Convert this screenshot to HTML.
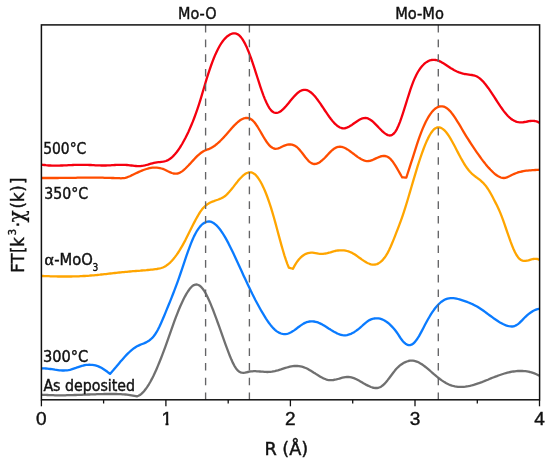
<!DOCTYPE html>
<html><head><meta charset="utf-8"><title>EXAFS FT</title>
<style>
html,body{margin:0;padding:0;background:#fff;}
body{width:550px;height:467px;overflow:hidden;position:relative;font-family:"DejaVu Sans Condensed","DejaVu Sans","Liberation Sans",sans-serif;font-stretch:condensed;color:#111;}
svg{position:absolute;left:0;top:0;display:block;}
text{font-family:"DejaVu Sans Condensed","DejaVu Sans","Liberation Sans",sans-serif;font-stretch:condensed;fill:#111;stroke:#111;stroke-width:0.4px;}
.lab{font-size:16px;}
.tick{font-family:"Liberation Sans",sans-serif;font-stretch:normal;font-size:17.8px;text-anchor:middle;}
.ttl{font-size:18.4px;}
.c{fill:none;stroke-width:2.3;stroke-linecap:round;stroke-linejoin:round;}
</style></head><body>
<svg width="550" height="467" viewBox="0 0 550 467">
<rect x="0" y="0" width="550" height="467" fill="#ffffff"/>
<clipPath id="pc"><rect x="41.35" y="24.95" width="498.20" height="374.95"/></clipPath><g clip-path="url(#pc)">
<path class="c" stroke="#707070" d="M41.4 394.7 L42.9 394.8 L44.4 394.9 L45.9 394.9 L47.4 395.0 L48.9 395.1 L50.4 395.1 L51.9 395.2 L53.4 395.2 L54.9 395.3 L56.4 395.3 L57.9 395.3 L59.4 395.3 L60.9 395.3 L62.4 395.3 L63.9 395.3 L65.4 395.3 L66.9 395.2 L68.4 395.2 L69.9 395.2 L71.4 395.1 L72.9 395.1 L74.4 395.0 L75.9 395.0 L77.4 394.9 L78.9 394.9 L80.4 394.8 L81.9 394.8 L83.4 394.7 L84.9 394.7 L86.4 394.6 L87.9 394.5 L89.4 394.5 L90.9 394.4 L92.4 394.4 L93.9 394.3 L95.4 394.3 L96.9 394.2 L98.4 394.2 L99.9 394.1 L101.4 394.1 L102.9 394.1 L104.4 394.0 L105.9 394.0 L107.4 394.0 L108.9 394.0 L110.4 394.0 L111.9 394.0 L113.4 394.0 L114.9 394.0 L116.4 394.0 L117.9 394.1 L119.4 394.1 L120.9 394.2 L122.4 394.3 L123.9 394.4 L125.4 394.5 L126.9 394.7 L128.4 394.9 L129.9 395.1 L131.4 395.3 L132.9 395.6 L134.4 395.9 L135.9 396.2 L136.9 396.4 L138.4 395.8 L139.9 395.0 L141.4 393.8 L142.9 392.4 L144.4 390.7 L145.9 388.8 L147.4 386.7 L148.9 384.3 L150.4 381.7 L151.9 378.9 L153.4 375.9 L154.9 372.7 L156.4 369.4 L157.9 365.9 L159.4 362.3 L160.9 358.5 L162.4 354.7 L163.9 350.7 L165.4 346.6 L166.9 342.4 L168.4 338.2 L169.9 333.9 L171.4 329.6 L172.9 325.4 L174.4 321.2 L175.9 317.2 L177.4 313.3 L178.9 309.5 L180.4 306.0 L181.9 302.7 L183.4 299.6 L184.9 296.6 L186.4 293.9 L187.9 291.5 L189.4 289.3 L190.9 287.5 L192.4 286.0 L193.9 285.1 L195.4 284.6 L196.9 284.5 L198.4 285.0 L199.9 285.8 L201.4 287.2 L202.9 289.0 L204.4 291.2 L205.9 293.8 L207.4 296.8 L208.9 300.0 L210.4 303.4 L211.9 307.1 L213.4 310.8 L214.9 314.8 L216.4 318.8 L217.9 323.0 L219.4 327.2 L220.9 331.4 L222.4 335.7 L223.9 339.9 L225.4 344.1 L226.9 348.2 L228.4 352.2 L229.9 356.0 L231.4 359.6 L232.9 362.9 L234.4 365.8 L235.9 368.2 L237.4 370.1 L238.9 371.5 L240.4 372.3 L241.9 372.7 L243.4 372.8 L244.9 372.6 L246.4 372.3 L247.9 372.0 L249.4 371.7 L250.9 371.4 L252.4 371.3 L253.9 371.2 L255.4 371.2 L256.9 371.3 L258.4 371.4 L259.9 371.5 L261.4 371.6 L262.9 371.7 L264.4 371.8 L265.9 371.9 L267.4 372.0 L268.9 371.9 L270.4 371.8 L271.9 371.7 L273.4 371.4 L274.9 371.1 L276.4 370.7 L277.9 370.3 L279.4 369.8 L280.9 369.4 L282.4 368.9 L283.9 368.4 L285.4 367.9 L286.9 367.5 L288.4 367.1 L289.9 366.7 L291.4 366.4 L292.9 366.2 L294.4 366.0 L295.9 366.0 L297.4 366.0 L298.9 366.1 L300.4 366.4 L301.9 366.7 L303.4 367.1 L304.9 367.7 L306.4 368.3 L307.9 369.0 L309.4 369.9 L310.9 370.8 L312.4 371.7 L313.9 372.7 L315.4 373.6 L316.9 374.6 L318.4 375.5 L319.9 376.4 L321.4 377.3 L322.9 378.1 L324.4 378.7 L325.9 379.3 L327.4 379.8 L328.9 380.1 L330.4 380.2 L331.9 380.2 L333.4 380.0 L334.9 379.7 L336.4 379.4 L337.9 379.0 L339.4 378.6 L340.9 378.1 L342.4 377.7 L343.9 377.4 L345.4 377.1 L346.9 377.0 L348.4 376.9 L349.9 377.1 L351.4 377.4 L352.9 377.8 L354.4 378.4 L355.9 379.0 L357.4 379.8 L358.9 380.6 L360.4 381.4 L361.9 382.3 L363.4 383.2 L364.9 384.0 L366.4 384.9 L367.9 385.6 L369.4 386.3 L370.9 387.0 L372.4 387.5 L373.9 387.8 L375.4 388.0 L376.9 388.0 L378.4 387.8 L379.9 387.2 L381.4 386.4 L382.9 385.3 L384.4 383.9 L385.9 382.2 L387.4 380.4 L388.9 378.5 L390.4 376.5 L391.9 374.5 L393.4 372.5 L394.9 370.6 L396.4 368.8 L397.9 367.3 L399.4 365.9 L400.9 364.7 L402.4 363.7 L403.9 362.8 L405.4 362.1 L406.9 361.5 L408.4 361.0 L409.9 360.7 L411.4 360.6 L412.9 360.7 L414.4 360.9 L415.9 361.3 L417.4 361.8 L418.9 362.6 L420.4 363.4 L421.9 364.3 L423.4 365.4 L424.9 366.5 L426.4 367.7 L427.9 368.9 L429.4 370.2 L430.9 371.5 L432.4 372.8 L433.9 374.1 L435.4 375.3 L436.9 376.6 L438.4 377.8 L439.9 379.0 L441.4 380.1 L442.9 381.1 L444.4 382.1 L445.9 383.0 L447.4 383.8 L448.9 384.5 L450.4 385.1 L451.9 385.6 L453.4 386.0 L454.9 386.4 L456.4 386.6 L457.9 386.8 L459.4 386.9 L460.9 386.9 L462.4 386.9 L463.9 386.8 L465.4 386.7 L466.9 386.4 L468.4 386.2 L469.9 385.9 L471.4 385.5 L472.9 385.1 L474.4 384.7 L475.9 384.2 L477.4 383.7 L478.9 383.2 L480.4 382.6 L481.9 382.1 L483.4 381.5 L484.9 380.9 L486.4 380.3 L487.9 379.7 L489.4 379.0 L490.9 378.4 L492.4 377.8 L493.9 377.2 L495.4 376.6 L496.9 376.1 L498.4 375.5 L499.9 375.0 L501.4 374.5 L502.9 374.0 L504.4 373.5 L505.9 373.1 L507.4 372.7 L508.9 372.3 L510.4 372.0 L511.9 371.7 L513.4 371.5 L514.9 371.3 L516.4 371.1 L517.9 371.0 L519.4 371.0 L520.9 371.0 L522.4 371.0 L523.9 371.1 L525.4 371.2 L526.9 371.4 L528.4 371.7 L529.9 372.0 L531.4 372.4 L532.9 372.9 L534.4 373.4 L535.9 374.0 L537.4 374.7 L538.9 375.5 L540.0 376.1"/>
<path class="c" stroke="#0a7bff" d="M41.4 368.5 L42.9 368.4 L44.4 368.4 L45.9 368.5 L47.4 368.6 L48.9 368.8 L50.4 369.0 L51.9 369.2 L53.4 369.4 L54.9 369.7 L56.4 369.9 L57.9 370.1 L59.4 370.3 L60.9 370.4 L62.4 370.5 L63.9 370.5 L65.4 370.4 L66.9 370.3 L68.4 370.1 L69.9 369.8 L71.4 369.4 L72.9 368.9 L74.4 368.4 L75.9 367.9 L77.4 367.3 L78.9 366.8 L80.4 366.3 L81.9 365.9 L83.4 365.5 L84.9 365.2 L86.4 364.9 L87.9 364.8 L89.4 364.7 L90.9 364.8 L92.4 364.9 L93.9 365.1 L95.4 365.4 L96.9 365.9 L98.4 366.4 L99.9 367.1 L101.4 367.8 L102.9 368.7 L104.4 369.7 L105.9 370.7 L107.4 371.8 L108.9 373.0 L110.0 373.9 L111.5 372.2 L113.0 370.5 L114.5 368.7 L116.0 367.0 L117.5 365.2 L119.0 363.4 L120.5 361.6 L122.0 359.9 L123.5 358.2 L125.0 356.5 L126.5 354.9 L128.0 353.4 L129.5 352.0 L131.0 350.6 L132.5 349.4 L134.0 348.2 L135.5 347.2 L137.0 346.3 L138.5 345.6 L140.0 344.9 L141.5 344.3 L143.0 343.7 L144.5 343.1 L146.0 342.4 L147.5 341.6 L149.0 340.7 L150.5 339.5 L152.0 338.2 L153.5 336.5 L155.0 334.5 L156.5 332.2 L158.0 329.5 L159.5 326.5 L161.0 323.2 L162.5 319.8 L164.0 316.2 L165.5 312.6 L167.0 308.9 L168.5 305.3 L170.0 301.6 L171.5 297.9 L173.0 294.0 L174.5 290.2 L176.0 286.2 L177.5 282.1 L179.0 277.8 L180.5 273.5 L182.0 269.1 L183.5 264.6 L185.0 260.1 L186.5 255.7 L188.0 251.4 L189.5 247.3 L191.0 243.4 L192.5 239.8 L194.0 236.4 L195.5 233.5 L197.0 230.8 L198.5 228.6 L200.0 226.6 L201.5 225.0 L203.0 223.7 L204.5 222.7 L206.0 222.0 L207.5 221.6 L209.0 221.5 L210.5 221.7 L212.0 222.2 L213.5 223.0 L215.0 224.1 L216.5 225.4 L218.0 227.0 L219.5 228.8 L221.0 230.8 L222.5 233.0 L224.0 235.4 L225.5 237.9 L227.0 240.6 L228.5 243.4 L230.0 246.4 L231.5 249.4 L233.0 252.5 L234.5 255.7 L236.0 259.0 L237.5 262.2 L239.0 265.5 L240.5 268.8 L242.0 272.1 L243.5 275.4 L245.0 278.6 L246.5 281.8 L248.0 285.0 L249.5 288.1 L251.0 291.2 L252.5 294.3 L254.0 297.2 L255.5 300.2 L257.0 303.0 L258.5 305.8 L260.0 308.5 L261.5 311.2 L263.0 313.7 L264.5 316.2 L266.0 318.6 L267.5 320.8 L269.0 323.0 L270.5 324.9 L272.0 326.7 L273.5 328.4 L275.0 329.8 L276.5 331.1 L278.0 332.1 L279.5 332.9 L281.0 333.5 L282.5 333.9 L284.0 334.1 L285.5 334.1 L287.0 333.9 L288.5 333.5 L290.0 332.8 L291.5 332.0 L293.0 331.1 L294.5 330.1 L296.0 329.0 L297.5 327.8 L299.0 326.7 L300.5 325.6 L302.0 324.6 L303.5 323.6 L305.0 322.9 L306.5 322.2 L308.0 321.8 L309.5 321.5 L311.0 321.4 L312.5 321.4 L314.0 321.5 L315.5 321.8 L317.0 322.2 L318.5 322.7 L320.0 323.4 L321.5 324.1 L323.0 324.9 L324.5 325.8 L326.0 326.7 L327.5 327.7 L329.0 328.7 L330.5 329.6 L332.0 330.6 L333.5 331.5 L335.0 332.3 L336.5 333.1 L338.0 333.8 L339.5 334.4 L341.0 334.8 L342.5 335.2 L344.0 335.3 L345.5 335.3 L347.0 335.1 L348.5 334.7 L350.0 334.2 L351.5 333.6 L353.0 332.8 L354.5 331.9 L356.0 330.9 L357.5 329.8 L359.0 328.6 L360.5 327.3 L362.0 326.0 L363.5 324.6 L365.0 323.3 L366.5 322.1 L368.0 321.0 L369.5 320.1 L371.0 319.4 L372.5 318.9 L374.0 318.5 L375.5 318.3 L377.0 318.3 L378.5 318.4 L380.0 318.7 L381.5 319.1 L383.0 319.8 L384.5 320.5 L386.0 321.4 L387.5 322.5 L389.0 323.7 L390.5 325.1 L392.0 326.6 L393.5 328.2 L395.0 330.0 L396.5 332.0 L398.0 334.2 L399.5 336.5 L401.0 338.8 L402.5 340.7 L404.0 342.4 L405.5 343.7 L407.0 344.6 L408.5 345.1 L410.0 345.1 L411.5 344.7 L413.0 343.8 L414.5 342.4 L416.0 340.6 L417.5 338.5 L419.0 336.1 L420.5 333.4 L422.0 330.6 L423.5 327.7 L425.0 324.8 L426.5 322.0 L428.0 319.3 L429.5 316.7 L431.0 314.2 L432.5 311.9 L434.0 309.8 L435.5 307.8 L437.0 306.1 L438.5 304.4 L440.0 303.0 L441.5 301.7 L443.0 300.7 L444.5 299.8 L446.0 299.1 L447.5 298.6 L449.0 298.3 L450.5 298.1 L452.0 298.1 L453.5 298.2 L455.0 298.3 L456.5 298.6 L458.0 299.0 L459.5 299.4 L461.0 299.9 L462.5 300.4 L464.0 300.9 L465.5 301.4 L467.0 301.9 L468.5 302.5 L470.0 303.1 L471.5 303.7 L473.0 304.4 L474.5 305.2 L476.0 306.0 L477.5 306.8 L479.0 307.8 L480.5 308.8 L482.0 309.8 L483.5 310.8 L485.0 311.9 L486.5 313.0 L488.0 314.1 L489.5 315.2 L491.0 316.3 L492.5 317.4 L494.0 318.5 L495.5 319.5 L497.0 320.5 L498.5 321.5 L500.0 322.4 L501.5 323.2 L503.0 324.0 L504.5 324.7 L506.0 325.4 L507.5 325.9 L509.0 326.2 L510.5 326.4 L512.0 326.5 L513.5 326.3 L515.0 325.8 L516.5 325.1 L518.0 324.1 L519.5 322.9 L521.0 321.4 L522.5 319.9 L524.0 318.3 L525.5 316.8 L527.0 315.4 L528.5 314.1 L530.0 313.0 L531.5 312.0 L533.0 311.0 L534.5 310.3 L536.0 309.6 L537.5 309.1 L539.0 308.8 L540.0 308.6"/>
<path class="c" stroke="#ffa500" d="M41.4 276.0 L42.9 276.0 L44.4 276.1 L45.9 276.1 L47.4 276.2 L48.9 276.2 L50.4 276.3 L51.9 276.3 L53.4 276.4 L54.9 276.4 L56.4 276.4 L57.9 276.5 L59.4 276.5 L60.9 276.5 L62.4 276.5 L63.9 276.5 L65.4 276.5 L66.9 276.5 L68.4 276.5 L69.9 276.5 L71.4 276.5 L72.9 276.4 L74.4 276.4 L75.9 276.4 L77.4 276.3 L78.9 276.3 L80.4 276.2 L81.9 276.1 L83.4 276.0 L84.9 276.0 L86.4 275.9 L87.9 275.8 L89.4 275.7 L90.9 275.5 L92.4 275.4 L93.9 275.3 L95.4 275.1 L96.9 275.0 L98.4 274.8 L99.9 274.7 L101.4 274.5 L102.9 274.4 L104.4 274.2 L105.9 274.1 L107.4 273.9 L108.9 273.7 L110.4 273.5 L111.9 273.4 L113.4 273.2 L114.9 273.0 L116.4 272.9 L117.9 272.7 L119.4 272.5 L120.9 272.4 L122.4 272.2 L123.9 272.1 L125.4 271.9 L126.9 271.8 L128.4 271.6 L129.9 271.5 L131.4 271.4 L132.9 271.2 L134.4 271.1 L135.9 271.0 L137.4 270.9 L138.9 270.8 L140.4 270.7 L141.9 270.5 L143.4 270.4 L144.9 270.3 L146.4 270.2 L147.9 270.0 L149.4 269.9 L150.9 269.7 L152.4 269.6 L153.9 269.4 L155.4 269.2 L156.9 269.0 L158.4 268.7 L159.9 268.4 L161.4 268.0 L162.9 267.5 L164.4 266.8 L165.9 265.9 L167.4 264.8 L168.9 263.6 L170.4 262.3 L171.9 260.7 L173.4 259.0 L174.9 257.1 L176.4 255.1 L177.9 253.0 L179.4 250.7 L180.9 248.2 L182.4 245.6 L183.9 242.9 L185.4 240.1 L186.9 237.1 L188.4 234.1 L189.9 231.1 L191.4 228.0 L192.9 225.0 L194.4 222.1 L195.9 219.2 L197.4 216.6 L198.9 214.0 L200.4 211.7 L201.9 209.6 L203.4 207.8 L204.9 206.3 L206.4 205.0 L207.9 203.9 L209.4 203.0 L210.9 202.2 L212.4 201.6 L213.9 201.1 L215.4 200.5 L216.9 200.0 L218.4 199.5 L219.9 198.9 L221.4 198.3 L222.9 197.4 L224.4 196.5 L225.9 195.3 L227.4 193.9 L228.9 192.3 L230.4 190.6 L231.9 188.8 L233.4 186.9 L234.9 184.9 L236.4 183.0 L237.9 181.1 L239.4 179.3 L240.9 177.7 L242.4 176.2 L243.9 174.9 L245.4 173.8 L246.9 173.0 L248.4 172.5 L249.9 172.3 L251.4 172.4 L252.9 173.0 L254.4 173.9 L255.9 175.2 L257.4 177.0 L258.9 179.1 L260.4 181.5 L261.9 184.3 L263.4 187.4 L264.9 190.8 L266.4 194.5 L267.9 198.5 L269.4 202.8 L270.9 207.4 L272.4 212.4 L273.9 217.5 L275.4 222.9 L276.9 228.5 L278.4 234.1 L279.9 239.6 L281.4 245.1 L282.9 250.3 L284.4 255.3 L285.9 259.9 L287.4 264.1 L288.9 267.7 L290.4 268.1 L291.9 268.5 L293.0 268.8 L294.5 265.9 L296.0 263.4 L297.5 261.2 L299.0 259.3 L300.5 257.7 L302.0 256.3 L303.5 255.2 L305.0 254.3 L306.5 253.6 L308.0 253.2 L309.5 252.9 L311.0 252.7 L312.5 252.7 L314.0 252.9 L315.5 253.1 L317.0 253.3 L318.5 253.6 L320.0 253.8 L321.5 253.9 L323.0 253.9 L324.5 253.7 L326.0 253.5 L327.5 253.1 L329.0 252.7 L330.5 252.3 L332.0 251.8 L333.5 251.4 L335.0 251.0 L336.5 250.7 L338.0 250.5 L339.5 250.4 L341.0 250.3 L342.5 250.3 L344.0 250.4 L345.5 250.6 L347.0 251.0 L348.5 251.4 L350.0 252.0 L351.5 252.6 L353.0 253.4 L354.5 254.3 L356.0 255.3 L357.5 256.4 L359.0 257.5 L360.5 258.5 L362.0 259.6 L363.5 260.6 L365.0 261.6 L366.5 262.5 L368.0 263.2 L369.5 263.8 L371.0 264.3 L372.5 264.6 L374.0 264.6 L375.5 264.5 L377.0 264.1 L378.5 263.4 L380.0 262.4 L381.5 261.2 L383.0 259.6 L384.5 257.8 L386.0 255.6 L387.5 253.1 L389.0 250.2 L390.5 247.0 L392.0 243.5 L393.5 239.9 L395.0 236.1 L396.5 232.2 L398.0 228.3 L399.5 224.4 L401.0 220.3 L402.5 216.1 L404.0 211.6 L405.5 206.9 L407.0 202.0 L408.5 197.0 L410.0 191.9 L411.5 186.8 L413.0 181.6 L414.5 176.6 L416.0 171.6 L417.5 166.7 L419.0 162.0 L420.5 157.5 L422.0 153.1 L423.5 149.0 L425.0 145.2 L426.5 141.6 L428.0 138.4 L429.5 135.5 L431.0 133.0 L432.5 131.0 L434.0 129.3 L435.5 128.2 L437.0 127.5 L438.5 127.3 L440.0 127.5 L441.5 128.1 L443.0 129.1 L444.5 130.4 L446.0 132.0 L447.5 134.0 L449.0 136.2 L450.5 138.6 L452.0 141.2 L453.5 144.0 L455.0 146.8 L456.5 149.7 L458.0 152.6 L459.5 155.5 L461.0 158.3 L462.5 160.9 L464.0 163.5 L465.5 165.8 L467.0 168.0 L468.5 170.0 L470.0 171.8 L471.5 173.3 L473.0 174.6 L474.5 175.8 L476.0 177.0 L477.5 178.1 L479.0 179.2 L480.5 180.4 L482.0 181.8 L483.5 183.2 L485.0 184.9 L486.5 186.8 L488.0 189.0 L489.5 191.4 L491.0 194.0 L492.5 196.8 L494.0 199.7 L495.5 202.6 L497.0 205.5 L498.5 208.7 L500.0 212.1 L501.5 215.9 L503.0 219.9 L504.5 224.2 L506.0 228.5 L507.5 232.9 L509.0 237.2 L510.5 241.4 L512.0 245.3 L513.5 249.0 L515.0 252.2 L516.5 255.0 L518.0 257.2 L519.5 258.9 L521.0 260.0 L522.5 260.6 L524.0 260.9 L525.5 260.9 L527.0 260.6 L528.5 260.3 L530.0 259.8 L531.5 259.4 L533.0 259.0 L534.5 258.8 L536.0 258.8 L537.5 259.0 L539.0 259.6 L540.0 260.2"/>
<path class="c" stroke="#ff4d00" d="M41.4 178.0 L42.9 178.0 L44.4 178.0 L45.9 178.0 L47.4 178.0 L48.9 178.0 L50.4 178.0 L51.9 178.0 L53.4 178.0 L54.9 178.0 L56.4 178.0 L57.9 178.0 L59.4 177.9 L60.9 177.9 L62.4 177.9 L63.9 177.9 L65.4 177.9 L66.9 177.9 L68.4 177.8 L69.9 177.8 L71.4 177.8 L72.9 177.8 L74.4 177.8 L75.9 177.8 L77.4 177.7 L78.9 177.7 L80.4 177.7 L81.9 177.7 L83.4 177.7 L84.9 177.7 L86.4 177.7 L87.9 177.7 L89.4 177.7 L90.9 177.7 L92.4 177.7 L93.9 177.7 L95.4 177.7 L96.9 177.7 L98.4 177.7 L99.9 177.7 L101.4 177.7 L102.9 177.7 L104.4 177.8 L105.9 177.8 L107.4 177.8 L108.9 177.9 L110.4 177.9 L111.9 178.0 L113.4 178.0 L114.9 178.1 L116.4 178.1 L117.9 178.2 L119.4 178.2 L120.9 178.3 L122.4 178.2 L123.9 178.1 L125.4 177.8 L126.9 177.4 L128.4 176.8 L129.9 176.2 L131.4 175.4 L132.9 174.7 L134.4 174.0 L135.9 173.3 L137.4 172.6 L138.9 171.9 L140.4 171.2 L141.9 170.6 L143.4 170.0 L144.9 169.5 L146.4 169.0 L147.9 168.6 L149.4 168.2 L150.9 167.9 L152.4 167.7 L153.9 167.6 L155.4 167.6 L156.9 167.7 L158.4 167.8 L159.9 168.1 L161.4 168.5 L162.9 168.9 L164.4 169.5 L165.9 170.2 L167.4 171.0 L168.9 171.7 L170.4 172.4 L171.9 173.0 L173.4 173.5 L174.9 173.7 L176.4 173.7 L177.9 173.5 L179.4 172.9 L180.9 172.1 L182.4 171.1 L183.9 169.9 L185.4 168.5 L186.9 167.0 L188.4 165.5 L189.9 163.9 L191.4 162.2 L192.9 160.6 L194.4 159.0 L195.9 157.4 L197.4 155.9 L198.9 154.6 L200.4 153.3 L201.9 152.2 L203.4 151.2 L204.9 150.5 L206.4 149.9 L207.9 149.3 L209.4 148.8 L210.9 148.1 L212.4 147.2 L213.9 146.3 L215.4 145.2 L216.9 144.0 L218.4 142.7 L219.9 141.3 L221.4 139.8 L222.9 138.2 L224.4 136.6 L225.9 134.9 L227.4 133.2 L228.9 131.5 L230.4 129.8 L231.9 128.0 L233.4 126.4 L234.9 124.8 L236.4 123.4 L237.9 122.0 L239.4 120.8 L240.9 119.8 L242.4 119.0 L243.9 118.4 L245.4 118.0 L246.9 117.9 L248.4 118.1 L249.9 118.6 L251.4 119.5 L252.9 120.7 L254.4 122.3 L255.9 124.3 L257.4 126.5 L258.9 129.0 L260.4 131.5 L261.9 134.1 L263.4 136.7 L264.9 139.2 L266.4 141.5 L267.9 143.6 L269.4 145.4 L270.9 146.8 L272.4 147.8 L273.9 148.5 L275.4 148.8 L276.9 148.7 L278.4 148.4 L279.9 147.8 L281.4 147.0 L282.9 146.3 L284.4 145.6 L285.9 145.1 L287.4 144.7 L288.9 144.5 L290.4 144.4 L291.9 144.6 L293.4 145.1 L294.9 145.8 L296.4 146.7 L297.9 148.0 L299.4 149.6 L300.9 151.4 L302.4 153.3 L303.9 155.3 L305.4 157.3 L306.9 159.1 L308.4 160.8 L309.9 162.1 L311.4 163.1 L312.9 163.8 L314.4 164.0 L315.9 163.9 L317.4 163.4 L318.9 162.7 L320.4 161.7 L321.9 160.5 L323.4 159.2 L324.9 157.7 L326.4 156.1 L327.9 154.5 L329.4 152.9 L330.9 151.4 L332.4 150.0 L333.9 148.8 L335.4 147.9 L336.9 147.2 L338.4 146.8 L339.9 146.7 L341.4 146.9 L342.9 147.2 L344.4 147.8 L345.9 148.5 L347.4 149.4 L348.9 150.4 L350.4 151.5 L351.9 152.6 L353.4 153.7 L354.9 154.9 L356.4 156.0 L357.9 157.1 L359.4 158.1 L360.9 159.0 L362.4 159.8 L363.9 160.4 L365.4 160.8 L366.9 161.1 L368.4 161.0 L369.9 160.8 L371.4 160.3 L372.9 159.8 L374.4 159.1 L375.9 158.4 L377.4 157.7 L378.9 157.1 L380.4 156.5 L381.9 156.2 L383.4 155.9 L384.9 156.0 L386.4 156.3 L387.9 157.0 L389.4 158.0 L390.9 159.4 L392.4 161.2 L393.9 163.4 L395.4 165.7 L396.9 168.2 L398.4 170.8 L399.9 173.4 L401.4 176.0 L402.2 177.3 L403.7 177.4 L405.2 177.6 L406.3 177.7 L407.8 173.0 L409.3 168.4 L410.8 163.7 L412.3 159.1 L413.8 154.3 L415.3 149.6 L416.8 144.9 L418.3 140.4 L419.8 136.1 L421.3 132.1 L422.8 128.4 L424.3 125.0 L425.8 121.8 L427.3 119.0 L428.8 116.4 L430.3 114.1 L431.8 112.1 L433.3 110.4 L434.8 109.0 L436.3 107.9 L437.8 107.1 L439.3 106.5 L440.8 106.3 L442.3 106.3 L443.8 106.6 L445.3 107.3 L446.8 108.2 L448.3 109.4 L449.8 110.8 L451.3 112.6 L452.8 114.5 L454.3 116.6 L455.8 118.9 L457.3 121.3 L458.8 123.7 L460.3 126.2 L461.8 128.8 L463.3 131.3 L464.8 133.8 L466.3 136.3 L467.8 138.7 L469.3 141.0 L470.8 143.4 L472.3 145.7 L473.8 147.9 L475.3 150.1 L476.8 152.3 L478.3 154.4 L479.8 156.5 L481.3 158.6 L482.8 160.6 L484.3 162.5 L485.8 164.4 L487.3 166.2 L488.8 167.9 L490.3 169.5 L491.8 171.0 L493.3 172.5 L494.8 173.8 L496.3 175.0 L497.8 176.0 L499.3 176.8 L500.8 177.5 L502.3 177.9 L503.8 178.0 L505.3 177.8 L506.8 177.4 L508.3 176.7 L509.8 176.0 L511.3 175.2 L512.8 174.5 L514.3 173.9 L515.8 173.3 L517.3 172.7 L518.8 172.2 L520.3 171.8 L521.8 171.5 L523.3 171.2 L524.8 170.9 L526.3 170.7 L527.8 170.6 L529.3 170.4 L530.8 170.3 L532.3 170.2 L533.8 170.1 L535.3 170.0 L536.8 169.9 L538.3 169.8 L539.6 169.7"/>
<path class="c" stroke="#f5000f" d="M41.4 164.6 L42.9 164.8 L44.4 165.0 L45.9 165.2 L47.4 165.3 L48.9 165.5 L50.4 165.5 L51.9 165.6 L53.4 165.6 L54.9 165.6 L56.4 165.6 L57.9 165.6 L59.4 165.6 L60.9 165.5 L62.4 165.5 L63.9 165.4 L65.4 165.4 L66.9 165.3 L68.4 165.2 L69.9 165.1 L71.4 165.1 L72.9 165.0 L74.4 164.9 L75.9 164.9 L77.4 164.8 L78.9 164.8 L80.4 164.8 L81.9 164.8 L83.4 164.8 L84.9 164.8 L86.4 164.8 L87.9 164.9 L89.4 165.0 L90.9 165.0 L92.4 165.1 L93.9 165.2 L95.4 165.3 L96.9 165.3 L98.4 165.4 L99.9 165.4 L101.4 165.5 L102.9 165.5 L104.4 165.5 L105.9 165.5 L107.4 165.4 L108.9 165.3 L110.4 165.3 L111.9 165.2 L113.4 165.1 L114.9 165.0 L116.4 164.9 L117.9 164.9 L119.4 164.8 L120.9 164.8 L122.4 164.8 L123.9 164.8 L125.4 164.9 L126.9 165.0 L128.4 165.1 L129.9 165.3 L131.4 165.5 L132.9 165.7 L134.4 165.9 L135.9 166.0 L137.4 166.1 L138.9 166.1 L140.4 166.1 L141.9 165.9 L143.4 165.7 L144.9 165.4 L146.4 165.0 L147.9 164.6 L149.4 164.1 L150.9 163.7 L152.4 163.3 L153.9 162.9 L155.4 162.6 L156.9 162.3 L158.4 162.2 L159.9 162.1 L161.4 161.9 L162.9 161.7 L164.4 161.4 L165.9 161.0 L167.4 160.4 L168.9 159.6 L170.4 158.5 L171.9 157.3 L173.4 155.9 L174.9 154.3 L176.4 152.5 L177.9 150.5 L179.4 148.3 L180.9 146.0 L182.4 143.5 L183.9 140.8 L185.4 138.0 L186.9 135.0 L188.4 131.9 L189.9 128.5 L191.4 125.0 L192.9 121.4 L194.4 117.5 L195.9 113.4 L197.4 109.1 L198.9 104.6 L200.4 99.8 L201.9 94.9 L203.4 89.8 L204.9 84.7 L206.4 79.7 L207.9 74.9 L209.4 70.3 L210.9 66.0 L212.4 61.9 L213.9 58.0 L215.4 54.4 L216.9 51.2 L218.4 48.2 L219.9 45.5 L221.4 43.1 L222.9 41.0 L224.4 39.1 L225.9 37.6 L227.4 36.2 L228.9 35.2 L230.4 34.3 L231.9 33.7 L233.4 33.4 L234.9 33.4 L236.4 33.7 L237.9 34.4 L239.4 35.5 L240.9 37.1 L242.4 39.1 L243.9 41.6 L245.4 44.4 L246.9 47.6 L248.4 51.2 L249.9 55.1 L251.4 59.2 L252.9 63.6 L254.4 68.1 L255.9 72.8 L257.4 77.5 L258.9 82.2 L260.4 86.8 L261.9 91.2 L263.4 95.3 L264.9 99.1 L266.4 102.5 L267.9 105.5 L269.4 108.1 L270.9 110.1 L272.4 111.6 L273.9 112.5 L275.4 112.9 L276.9 112.9 L278.4 112.5 L279.9 111.8 L281.4 110.7 L282.9 109.4 L284.4 107.9 L285.9 106.3 L287.4 104.5 L288.9 102.7 L290.4 100.8 L291.9 99.0 L293.4 97.2 L294.9 95.6 L296.4 94.1 L297.9 92.7 L299.4 91.6 L300.9 90.7 L302.4 90.1 L303.9 89.8 L305.4 89.8 L306.9 90.1 L308.4 90.8 L309.9 91.7 L311.4 92.8 L312.9 94.2 L314.4 95.8 L315.9 97.6 L317.4 99.5 L318.9 101.6 L320.4 103.7 L321.9 106.0 L323.4 108.2 L324.9 110.5 L326.4 112.7 L327.9 114.9 L329.4 117.0 L330.9 119.0 L332.4 120.9 L333.9 122.6 L335.4 124.2 L336.9 125.5 L338.4 126.6 L339.9 127.5 L341.4 128.0 L342.9 128.3 L344.4 128.3 L345.9 128.0 L347.4 127.4 L348.9 126.7 L350.4 125.8 L351.9 124.9 L353.4 123.8 L354.9 122.7 L356.4 121.7 L357.9 120.7 L359.4 119.8 L360.9 119.0 L362.4 118.4 L363.9 118.1 L365.4 118.0 L366.9 118.2 L368.4 118.7 L369.9 119.5 L371.4 120.5 L372.9 121.7 L374.4 123.1 L375.9 124.6 L377.4 126.1 L378.9 127.7 L380.4 129.2 L381.9 130.8 L383.4 132.2 L384.9 133.4 L386.4 134.4 L387.9 135.1 L389.4 135.5 L390.9 135.4 L392.4 134.7 L393.9 133.5 L395.4 131.6 L396.9 129.1 L398.4 125.8 L399.9 122.1 L401.4 117.9 L402.9 113.4 L404.4 108.7 L405.9 103.9 L407.4 99.0 L408.9 94.3 L410.4 89.7 L411.9 85.4 L413.4 81.4 L414.9 77.9 L416.4 74.8 L417.9 72.0 L419.4 69.6 L420.9 67.5 L422.4 65.7 L423.9 64.2 L425.4 62.9 L426.9 61.9 L428.4 61.0 L429.9 60.4 L431.4 60.0 L432.9 59.8 L434.4 59.8 L435.9 60.0 L437.4 60.4 L438.9 60.9 L440.4 61.6 L441.9 62.4 L443.4 63.3 L444.9 64.2 L446.4 65.2 L447.9 66.2 L449.4 67.2 L450.9 68.2 L452.4 69.1 L453.9 70.0 L455.4 70.8 L456.9 71.5 L458.4 72.1 L459.9 72.7 L461.4 73.2 L462.9 73.6 L464.4 74.0 L465.9 74.2 L467.4 74.4 L468.9 74.6 L470.4 74.8 L471.9 75.0 L473.4 75.3 L474.9 75.7 L476.4 76.3 L477.9 77.1 L479.4 78.1 L480.9 79.4 L482.4 80.8 L483.9 82.4 L485.4 84.2 L486.9 86.2 L488.4 88.2 L489.9 90.4 L491.4 92.6 L492.9 94.9 L494.4 97.2 L495.9 99.5 L497.4 101.8 L498.9 104.1 L500.4 106.4 L501.9 108.5 L503.4 110.6 L504.9 112.5 L506.4 114.3 L507.9 116.0 L509.4 117.4 L510.9 118.7 L512.4 119.8 L513.9 120.6 L515.4 121.3 L516.9 121.8 L518.4 122.2 L519.9 122.4 L521.4 122.4 L522.9 122.3 L524.4 122.0 L525.9 121.8 L527.4 121.5 L528.9 121.2 L530.4 121.0 L531.9 120.9 L533.4 120.9 L534.9 121.0 L536.4 121.4 L537.9 121.9 L539.4 122.8 L540.0 123.2"/>
</g>
<line x1="205.6" y1="24.9" x2="205.6" y2="399.9" stroke="#646466" stroke-width="1.35" stroke-dasharray="7.6 7.1"/>
<line x1="249.4" y1="24.9" x2="249.4" y2="399.9" stroke="#646466" stroke-width="1.35" stroke-dasharray="7.6 7.1"/>
<line x1="438.3" y1="24.9" x2="438.3" y2="399.9" stroke="#646466" stroke-width="1.35" stroke-dasharray="7.6 7.1"/>
<rect x="41.4" y="24.9" width="498.2" height="374.9" fill="none" stroke="#111111" stroke-width="1.5"/>
<line x1="41.4" y1="399.9" x2="41.4" y2="406.3" stroke="#111111" stroke-width="1.3"/>
<line x1="103.6" y1="399.9" x2="103.6" y2="403.5" stroke="#111111" stroke-width="1.3"/>
<line x1="165.9" y1="399.9" x2="165.9" y2="406.3" stroke="#111111" stroke-width="1.3"/>
<line x1="228.2" y1="399.9" x2="228.2" y2="403.5" stroke="#111111" stroke-width="1.3"/>
<line x1="290.4" y1="399.9" x2="290.4" y2="406.3" stroke="#111111" stroke-width="1.3"/>
<line x1="352.7" y1="399.9" x2="352.7" y2="403.5" stroke="#111111" stroke-width="1.3"/>
<line x1="415.0" y1="399.9" x2="415.0" y2="406.3" stroke="#111111" stroke-width="1.3"/>
<line x1="477.3" y1="399.9" x2="477.3" y2="403.5" stroke="#111111" stroke-width="1.3"/>
<line x1="539.5" y1="399.9" x2="539.5" y2="406.3" stroke="#111111" stroke-width="1.3"/>
<clipPath id="c1"><rect x="155" y="404" width="25" height="18.9"/><rect x="165.5" y="422.9" width="3" height="4"/></clipPath>
<text class="tick" x="41.4" y="424.7" textLength="10.6" lengthAdjust="spacingAndGlyphs">0</text>
<text class="tick" x="166.8" y="424.7" textLength="10.6" lengthAdjust="spacingAndGlyphs" clip-path="url(#c1)">1</text>
<text class="tick" x="290.4" y="424.7" textLength="10.6" lengthAdjust="spacingAndGlyphs">2</text>
<text class="tick" x="415.0" y="424.7" textLength="10.6" lengthAdjust="spacingAndGlyphs">3</text>
<text class="tick" x="539.5" y="424.7" textLength="10.6" lengthAdjust="spacingAndGlyphs">4</text>
<text class="ttl" x="264.4" y="455" textLength="43.9" lengthAdjust="spacingAndGlyphs">R (Å)</text>
<text class="ttl" transform="translate(23.8 272.5) rotate(-90)" x="-0.3 9.0 19.6 25.8 37.2 45.2 49.9 64.0 70.6 80.8 88.4">FT[k<tspan font-size="11" dy="-8">3</tspan><tspan dy="8">·</tspan><tspan font-size="22.5" font-family="DejaVu Serif, Liberation Serif, serif" stroke-width="0.25">χ</tspan>(k)]</text>
<text class="lab" x="178.1" y="18.5" textLength="38.5" lengthAdjust="spacingAndGlyphs">Mo-O</text>
<text class="lab" x="395.2" y="18.5" textLength="48.7" lengthAdjust="spacingAndGlyphs">Mo-Mo</text>
<text class="lab" x="43.2" y="153.8" textLength="43.1" lengthAdjust="spacingAndGlyphs">500°C</text>
<text class="lab" x="44.2" y="199.1" textLength="43.9" lengthAdjust="spacingAndGlyphs">350°C</text>
<text class="lab" y="265.3"><tspan x="44.6" font-family="Liberation Serif, serif" font-size="17.5" stroke-width="0.45">α</tspan><tspan x="54.2" textLength="38.6" lengthAdjust="spacingAndGlyphs">-MoO</tspan><tspan x="92.4" font-size="10" dy="5.4">3</tspan></text>
<text class="lab" x="42.9" y="361.9" textLength="45.3" lengthAdjust="spacingAndGlyphs">300°C</text>
<text class="lab" x="43.4" y="390.5" textLength="91.6" lengthAdjust="spacingAndGlyphs">As deposited</text>
</svg></body></html>
